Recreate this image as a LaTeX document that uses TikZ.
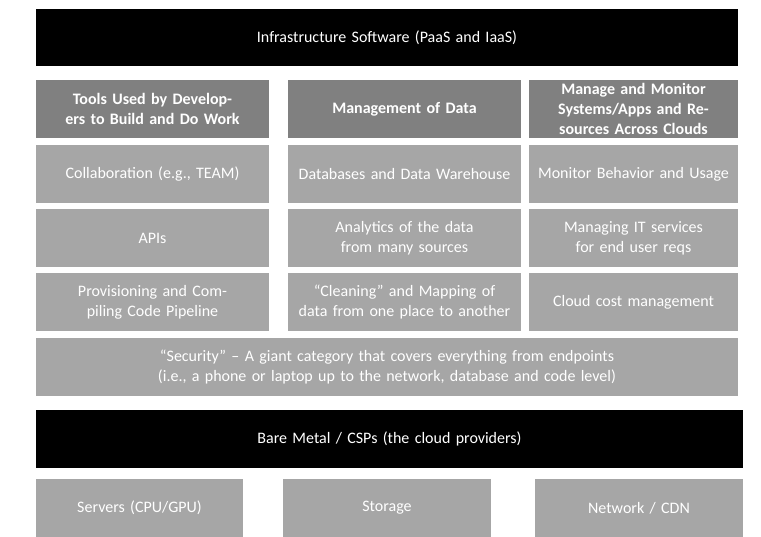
\documentclass[tikz,border=0pt]{standalone}
\usepackage{fontspec}
\setmainfont{Carlito}
\begin{document}
\begin{tikzpicture}[x=1pt,y=-1pt,
 blk/.style={fill=black,text=white,font=\fontsize{16}{19}\selectfont},
 hdr/.style={fill=gray!100!white,fill=black!50,text=white,font=\bfseries\fontsize{16}{20}\selectfont},
 lt/.style={fill=black!35,text=white,font=\fontsize{16}{20}\selectfont}]
\useasboundingbox (0,0) rectangle (761,537);
\newcommand\bx[7]{\fill[#1] (#3,#4) rectangle (#5,#6); \node[#1,fill=none,align=center,text width=#5pt-#3pt-8pt] (#2) at ({(#3+#5)/2},{(#4+#6)/2}) {#7};}
\bx{blk}{top}{36}{9}{738}{66}{Infrastructure Software (PaaS and IaaS)}
\bx{hdr}{h1}{36}{80}{269}{138}{Tools Used by Developers to Build and Do Work}
\bx{hdr}{h2}{288}{80}{521}{138}{Management of Data}
\bx{hdr}{h3}{529}{80}{738}{138}{Manage and Monitor Systems/Apps and Resources Across Clouds}
\bx{lt}{a1}{36}{145}{269}{203}{Collaboration (e.g., TEAM)}
\bx{lt}{a2}{288}{145}{521}{203}{Databases and Data Warehouse}
\bx{lt}{a3}{529}{145}{738}{203}{Monitor Behavior and Usage}
\bx{lt}{b1}{36}{209}{269}{267}{APIs}
\bx{lt}{b2}{288}{209}{521}{267}{Analytics of the data from many sources}
\bx{lt}{b3}{529}{209}{738}{267}{Managing IT services for end user reqs}
\bx{lt}{c1}{36}{273}{269}{331}{Provisioning and Compiling Code Pipeline}
\bx{lt}{c2}{288}{273}{521}{331}{“Cleaning” and Mapping of data from one place to another}
\bx{lt}{c3}{529}{273}{738}{331}{Cloud cost management}
\bx{lt}{sec}{36}{338}{738}{396}{“Security” – A giant category that covers everything from endpoints (i.e., a phone or laptop up to the network, database and code level)}
\bx{blk}{bm}{36}{410}{743}{468}{Bare Metal / CSPs (the cloud providers)}
\bx{lt}{s1}{36}{479}{243}{537}{Servers (CPU/GPU)}
\bx{lt}{s2}{283}{479}{491}{537}{Storage}
\bx{lt}{s3}{535}{479}{743}{537}{Network / CDN}
\end{tikzpicture}
\end{document}
